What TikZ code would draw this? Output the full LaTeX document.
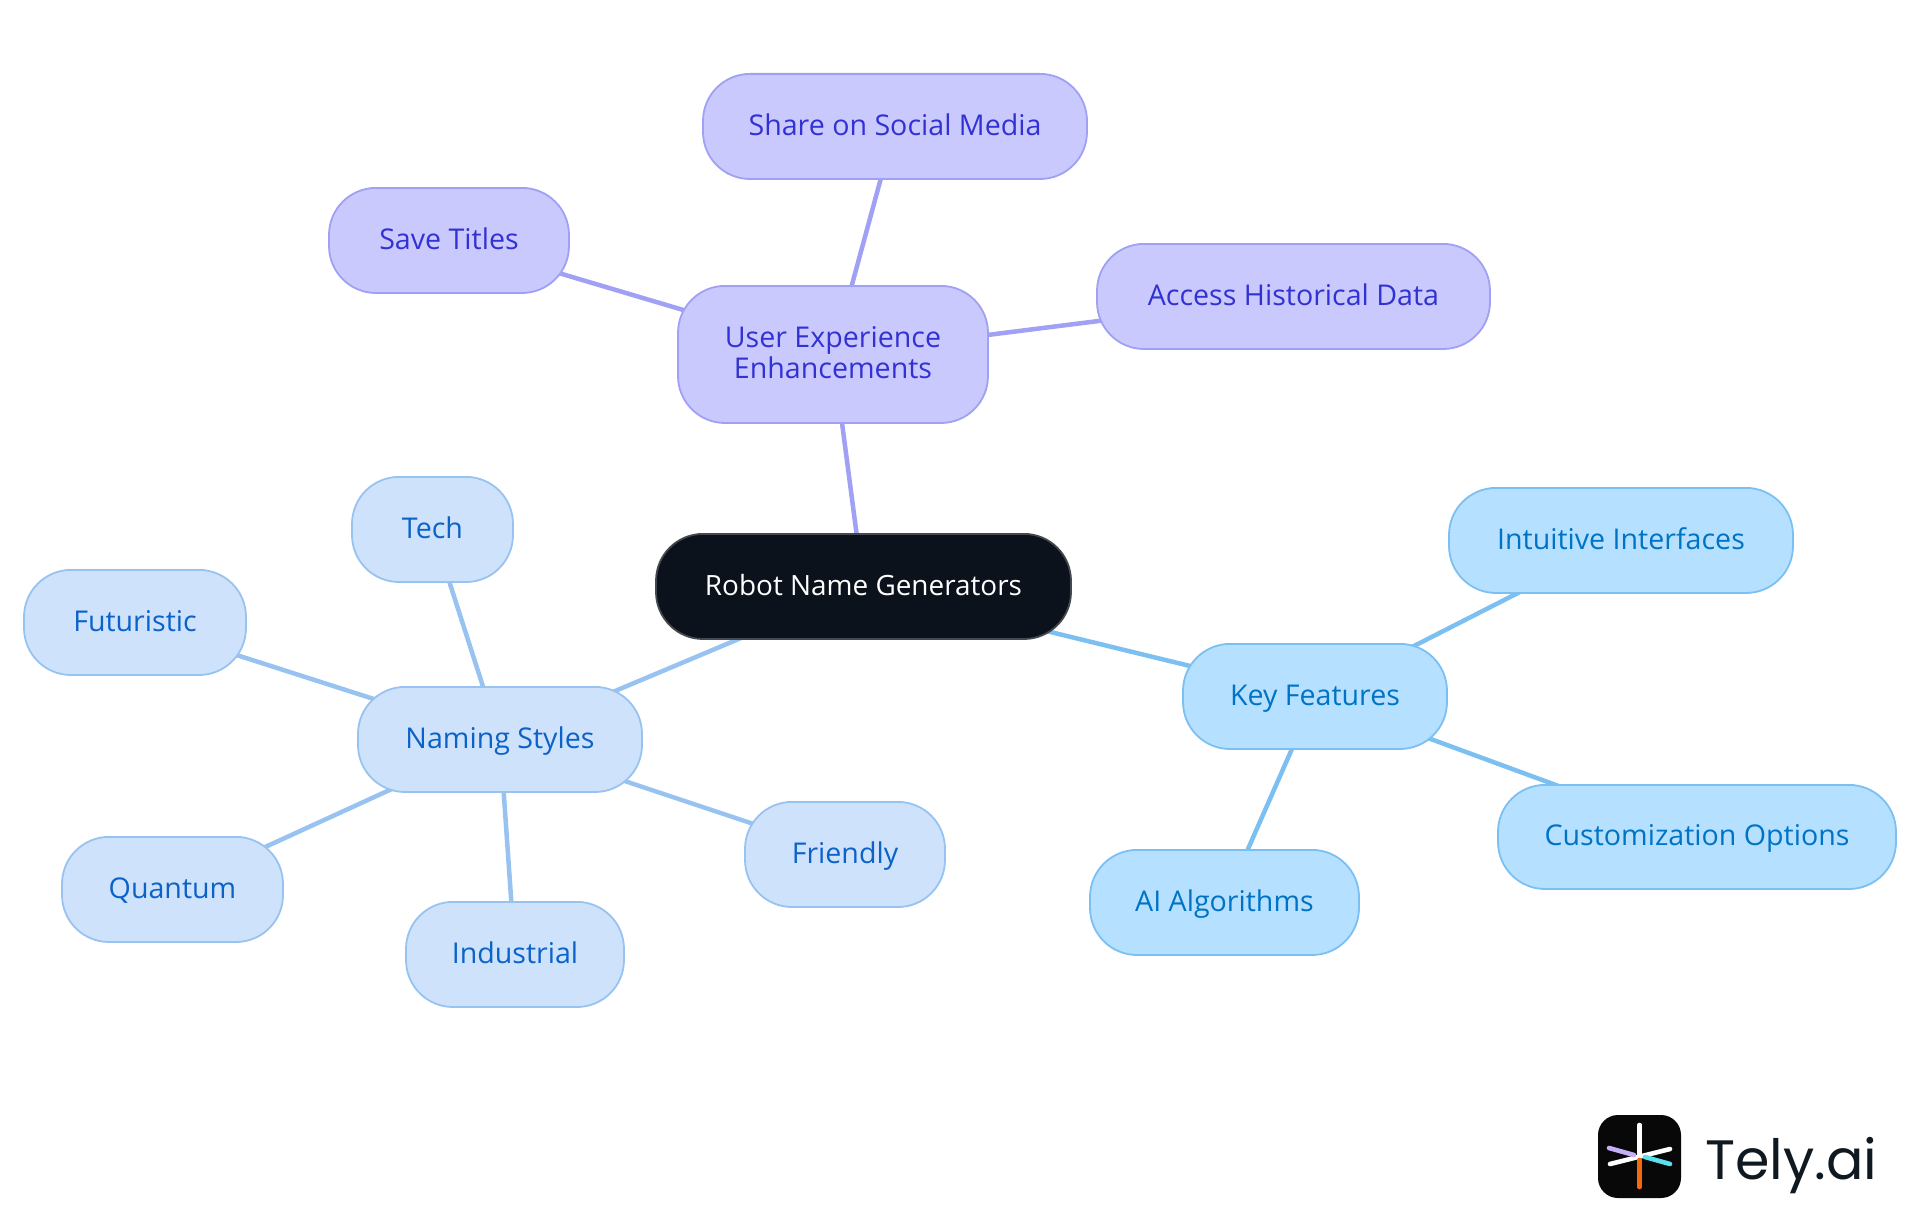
\documentclass[tikz,border=0pt]{standalone}
\usepackage{fontspec}
\setmainfont{Open Sans}
\newfontfamily\logofont{Poppins}
\usetikzlibrary{backgrounds}
\definecolor{rootfill}{HTML}{0B121B}
\definecolor{rootline}{HTML}{45494F}
\definecolor{pfill}{HTML}{C9C9FE}
\definecolor{pline}{HTML}{A0A0F4}
\definecolor{ptext}{HTML}{3232D2}
\definecolor{bfill}{HTML}{CFE2FC}
\definecolor{bline}{HTML}{98C3F1}
\definecolor{btext}{HTML}{0B62C8}
\definecolor{sfill}{HTML}{B5E0FF}
\definecolor{sline}{HTML}{7CC0F2}
\definecolor{stext}{HTML}{0073C4}
\definecolor{logoink}{HTML}{101820}
\definecolor{logoviolet}{HTML}{C4B0F8}
\definecolor{logocyan}{HTML}{5ADFEF}
\definecolor{logoorange}{HTML}{F06A10}
\tikzset{
  x=1pt,y=-1pt,
  mmbase/.style={rectangle,rounded corners=47pt,line width=1.8pt,inner sep=0pt,align=center,font=\fontsize{28.6}{31.5}\selectfont},
  mm/.style={mmbase,text height=22pt,text depth=4pt},
  rootnode/.style={mm,draw=rootline,fill=rootfill,text=white,font=\fontsize{27.9}{31.5}\selectfont},
  pnodetwo/.style={mmbase,draw=pline,fill=pfill,text=ptext},
  pnode/.style={mm,draw=pline,fill=pfill,text=ptext},
  bnode/.style={mm,draw=bline,fill=bfill,text=btext},
  snode/.style={mm,draw=sline,fill=sfill,text=stext},
  pedge/.style={draw=pline,line width=4.5pt},
  bedge/.style={draw=bline,line width=4.5pt},
  sedge/.style={draw=sline,line width=4.5pt},
  spoke/.style={line width=4.6pt,line cap=round},
}
\newcommand{\bx}[6]{%
  \node[#1,minimum width=#5pt-#3pt,minimum height=#6pt-#4pt-0.9pt] (#2) at ({(#3+#5)/2},{(#4+#6)/2+0.45})}
\begin{document}
\begin{tikzpicture}
\useasboundingbox (0,0) rectangle (1920,1215);
\bx{rootnode}{root}{656}{533}{1071}{639} {Robot Name Generators};
\bx{pnodetwo}{ux}{678}{285}{988}{423} {User Experience\\Enhancements\rule[-4pt]{0pt}{4pt}};
\bx{pnode}{share}{703}{73}{1087}{179} {Share on Social Media};
\bx{pnode}{save}{329}{187}{569}{293} {Save Titles};
\bx{pnode}{access}{1097}{243}{1490}{349} {Access Historical Data};
\bx{bnode}{naming}{358}{686}{642}{792} {Naming Styles};
\bx{bnode}{tech}{352}{476}{513}{582} {Tech};
\bx{bnode}{futur}{24}{569}{246}{675} {Futuristic};
\bx{bnode}{quant}{62}{836}{283}{942} {Quantum};
\bx{bnode}{indus}{406}{901}{624}{1007} {Industrial};
\bx{bnode}{friend}{745}{801}{945}{907} {Friendly};
\bx{snode}{key}{1183}{643}{1447}{749} {Key Features};
\bx{snode}{intu}{1449}{487}{1793}{593} {Intuitive Interfaces};
\bx{snode}{custom}{1498}{784}{1896}{889} {Customization Options};
\bx{snode}{ai}{1090}{849}{1359}{955} {AI Algorithms};
\begin{scope}[on background layer]
  \draw[pedge] (root.center) -- (ux.center);
  \draw[pedge] (ux.center) -- (share.center);
  \draw[pedge] (ux.center) -- (save.center);
  \draw[pedge] (ux.center) -- (access.center);
  \draw[bedge] (root.center) -- (naming.center);
  \draw[bedge] (naming.center) -- (tech.center);
  \draw[bedge] (naming.center) -- (futur.center);
  \draw[bedge] (naming.center) -- (quant.center);
  \draw[bedge] (naming.center) -- (indus.center);
  \draw[bedge] (naming.center) -- (friend.center);
  \draw[sedge] (root.center) -- (key.center);
  \draw[sedge] (key.center) -- (intu.center);
  \draw[sedge] (key.center) -- (custom.center);
  \draw[sedge] (key.center) -- (ai.center);
\end{scope}
% logo
\fill[black!97] (1598,1115) [rounded corners=20pt] rectangle (1681,1198);
\draw[spoke,white] (1639.5,1125) -- (1639.5,1154);
\draw[spoke,white] (1610,1164) -- (1670,1149);
\draw[spoke,logoorange] (1639.5,1160) -- (1639.5,1187);
\draw[spoke,logoviolet] (1609,1148) -- (1634,1155);
\draw[spoke,logocyan] (1645,1157) -- (1670,1164);
\node[text=logoink,inner sep=0pt,anchor=base west,font=\logofont\fontsize{55.5}{60}\selectfont] (logo) at (1705,1179) {Tely.ai};
\end{tikzpicture}
\end{document}
